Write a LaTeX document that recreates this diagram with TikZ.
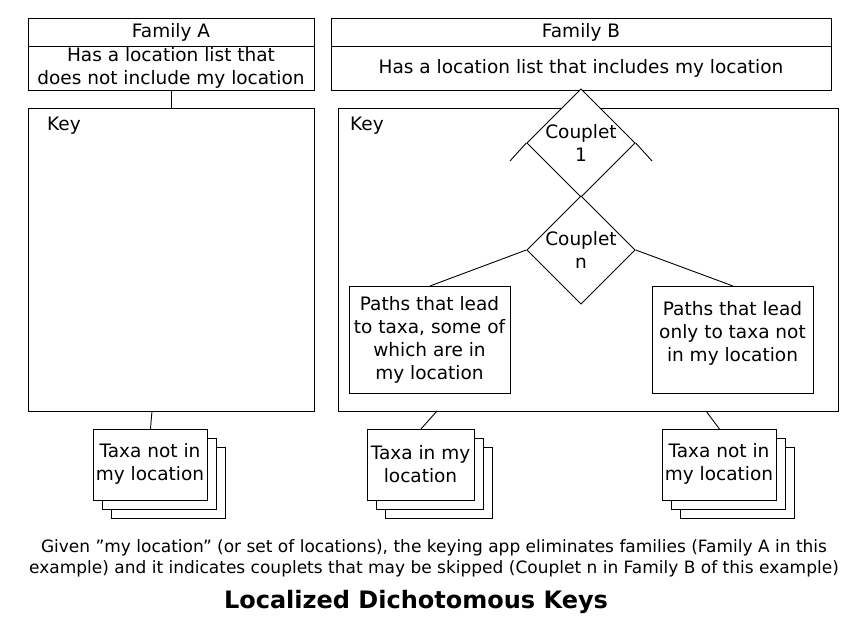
\documentclass[tikz,border=0pt]{standalone}
\usepackage{fontspec}
\setmainfont{DejaVu Sans}
\usetikzlibrary{shapes.geometric}
\begin{document}
\begin{tikzpicture}[x=1pt,y=-1pt,
  box/.style={draw,line width=0.9pt,fill=white},
  txt/.style={font=\fontsize{18.5}{23}\selectfont,align=center,inner sep=0pt},
  dia/.style={draw,line width=0.9pt,diamond,fill=white,minimum width=106pt,minimum height=72pt,inner sep=0pt,font=\fontsize{18.5}{23}\selectfont,align=center},
  ln/.style={line width=0.9pt}]
\useasboundingbox (0,0) rectangle (868,634);
% Family A
\node[box,minimum width=286pt,minimum height=28pt,anchor=north west] (fa) at (28,18) {};
\node[txt] (fat) at (171,32) {Family A};
\node[box,minimum width=286pt,minimum height=44pt,anchor=north west] (fab) at (28,46) {};
\node[txt] (fabt) at (171,68) {Has a location list that\\does not include my location};
\node[box,minimum width=286pt,minimum height=303pt,anchor=north west] (ka) at (28,108) {};
\node[txt] (kat) at (64,126) {Key};
\draw[ln] (fab.south) -- (ka.north);
% Family B
\node[box,minimum width=500pt,minimum height=28pt,anchor=north west] (fb) at (331,18) {};
\node[txt] (fbt) at (581,32) {Family B};
\node[box,minimum width=500pt,minimum height=44pt,anchor=north west] (fbb) at (331,46) {};
\node[txt] (fbbt) at (581,68) {Has a location list that includes my location};
\node[box,minimum width=500pt,minimum height=303pt,anchor=north west] (kb) at (338,108) {};
\node[txt] (kbt) at (367,126) {Key};
\coordinate (kbtop) at (581,108);
\draw[ln] (581,90) -- (kbtop);
\node[dia] (c1) at (581,143) {Couplet\\1};
\coordinate (c1l) at (510,161);
\coordinate (c1r) at (652,161);
\draw[ln] (c1.west) -- (c1l);
\draw[ln] (c1.east) -- (c1r);
\node[dia] (cn) at (581,250) {Couplet\\n};
\node[box,minimum width=161pt,minimum height=107pt,anchor=north west] (pl) at (349,286) {};
\node[txt] (plt) at (429.5,340) {Paths that lead\\to taxa, some of\\which are in\\my location};
\node[box,minimum width=161pt,minimum height=107pt,anchor=north west] (pr) at (652,286) {};
\node[txt] (prt) at (732.5,333) {Paths that lead\\only to taxa not\\in my location};
\draw[ln] (cn.west) -- (pl.north);
\draw[ln] (cn.east) -- (pr.north);
% stacks
\foreach \n/\x/\w in {sa/93/114, sb/367/107, sc/662/114}{
  \node[box,minimum width=\w pt,minimum height=71pt,anchor=north west] (\n3) at (\x+18,447) {};
  \node[box,minimum width=\w pt,minimum height=71pt,anchor=north west] (\n2) at (\x+9,438) {};
  \node[box,minimum width=\w pt,minimum height=71pt,anchor=north west] (\n) at (\x,429) {};
}
\node[txt] (sat) at (150,464) {Taxa not in\\my location};
\node[txt] (sbt) at (420.5,464) {Taxa in my\\location};
\node[txt] (sct) at (719,464) {Taxa not in\\my location};
\coordinate (ka1) at (152,411);
\draw[ln] (ka1) -- (sa.north);
\coordinate (kb1) at (437,411);
\draw[ln] (kb1) -- (sb.north);
\coordinate (kb2) at (706,411);
\draw[ln] (kb2) -- (sc.north);
% caption
\node[txt,font=\fontsize{17}{21}\selectfont] (cap) at (434,558) {Given "my location" (or set of locations), the keying app eliminates families (Family A in this\\example) and it indicates couplets that may be skipped (Couplet n in Family B of this example)};
\node[txt,font=\bfseries\fontsize{24}{28}\selectfont] (title) at (416,602) {Localized Dichotomous Keys};
\end{tikzpicture}
\end{document}
